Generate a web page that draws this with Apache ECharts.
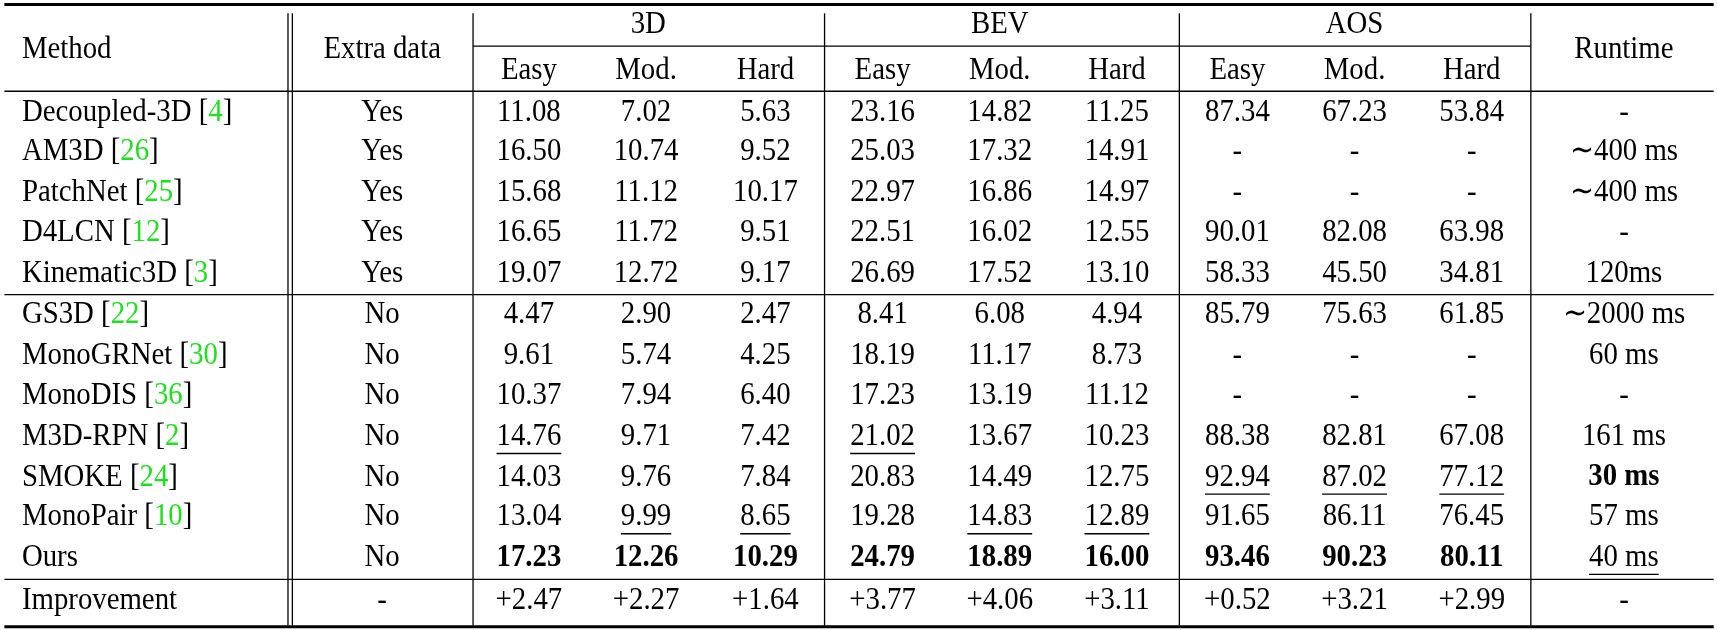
<!DOCTYPE html>
<html>
<head>
<meta charset="utf-8">
<script src="https://cdn.jsdelivr.net/npm/echarts@6/dist/echarts.min.js"></script>
<style>html,body{margin:0;padding:0;background:#fff}#main{width:1717px;height:630px}</style>
</head>
<body>
<div id="main"></div>
<script>
// table data
var methods = ['Decoupled-3D', 'AM3D', 'PatchNet', 'D4LCN', 'Kinematic3D', 'GS3D', 'MonoGRNet', 'MonoDIS', 'M3D-RPN', 'SMOKE', 'MonoPair', 'Ours', 'Improvement'];
var refs = ['4', '26', '25', '12', '3', '22', '30', '36', '2', '24', '10', '', ''];
var extraData = ['Yes', 'Yes', 'Yes', 'Yes', 'Yes', 'No', 'No', 'No', 'No', 'No', 'No', 'No', '-'];
var groups = ['3D', 'BEV', 'AOS'];
var subHeads = ['Easy', 'Mod.', 'Hard'];
var values = [
	['11.08', '7.02', '5.63', '23.16', '14.82', '11.25', '87.34', '67.23', '53.84'],
	['16.50', '10.74', '9.52', '25.03', '17.32', '14.91', '-', '-', '-'],
	['15.68', '11.12', '10.17', '22.97', '16.86', '14.97', '-', '-', '-'],
	['16.65', '11.72', '9.51', '22.51', '16.02', '12.55', '90.01', '82.08', '63.98'],
	['19.07', '12.72', '9.17', '26.69', '17.52', '13.10', '58.33', '45.50', '34.81'],
	['4.47', '2.90', '2.47', '8.41', '6.08', '4.94', '85.79', '75.63', '61.85'],
	['9.61', '5.74', '4.25', '18.19', '11.17', '8.73', '-', '-', '-'],
	['10.37', '7.94', '6.40', '17.23', '13.19', '11.12', '-', '-', '-'],
	['14.76', '9.71', '7.42', '21.02', '13.67', '10.23', '88.38', '82.81', '67.08'],
	['14.03', '9.76', '7.84', '20.83', '14.49', '12.75', '92.94', '87.02', '77.12'],
	['13.04', '9.99', '8.65', '19.28', '14.83', '12.89', '91.65', '86.11', '76.45'],
	['17.23', '12.26', '10.29', '24.79', '18.89', '16.00', '93.46', '90.23', '80.11'],
	['+2.47', '+2.27', '+1.64', '+3.77', '+4.06', '+3.11', '+0.52', '+3.21', '+2.99']
];
var runtimes = ['-', '\u223c400 ms', '\u223c400 ms', '-', '120ms', '\u223c2000 ms', '60 ms', '-', '161 ms', '30 ms', '57 ms', '40 ms', '-'];
// second best marks [row, col] (col 0..8 values, 9 runtime)
var underlined = [[8, 0], [8, 3], [9, 6], [9, 7], [9, 8], [10, 1], [10, 2], [10, 4], [10, 5], [11, 9]];
var boldCells = [[11, 0], [11, 1], [11, 2], [11, 3], [11, 4], [11, 5], [11, 6], [11, 7], [11, 8], [9, 9]];

// layout (in a 1568 x 573 frame)
var valueX = [483, 590, 699, 806, 913, 1020, 1130, 1237, 1344];
var runtimeX = 1483, extraX = 349, methodX = 20;
var groupX = [592, 913, 1237];
var rowY = [102, 138, 175, 212, 249, 286, 323, 360, 397, 434, 470, 507, 546];
var FONT = 'Liberation Serif, Times New Roman, serif';
var FS = 32, SX = 0.9;

function has(list, r, c) {
	return list.some(function (p) { return p[0] === r && p[1] === c; });
}

var cells = [];
cells.push({value: [methodX, 45], text: 'Method', align: 'left'});
cells.push({value: [extraX, 45], text: 'Extra data'});
cells.push({value: [runtimeX, 45], text: 'Runtime'});
groups.forEach(function (g, i) {
	cells.push({value: [groupX[i], 22], text: g});
	subHeads.forEach(function (s, j) {
		cells.push({value: [valueX[i * 3 + j], 64], text: s});
	});
});
methods.forEach(function (m, r) {
	cells.push({value: [methodX, rowY[r]], text: m, ref: refs[r], align: 'left'});
	cells.push({value: [extraX, rowY[r]], text: extraData[r]});
	values[r].forEach(function (v, c) {
		cells.push({value: [valueX[c], rowY[r]], text: v, bold: has(boldCells, r, c), under: has(underlined, r, c)});
	});
	cells.push({value: [runtimeX, rowY[r]], text: runtimes[r], bold: has(boldCells, r, 9), under: has(underlined, r, 9)});
});

// rules: x1, y1, x2, y2, width
var rules = [
	[4, 4, 1565, 4, 3], [4, 570, 1565, 570, 3],
	[4, 83, 1565, 83, 1.3], [4, 268, 1565, 268, 1.3], [4, 527, 1565, 527, 1.3],
	[432, 42, 1398, 42, 1.3],
	[263, 12, 263, 569, 1.3], [267, 12, 267, 569, 1.3], [432, 12, 432, 569, 1.3],
	[753, 12, 753, 569, 1.3], [1077, 12, 1077, 569, 1.3], [1398, 12, 1398, 569, 1.3]
];

var measureCtx = document.createElement('canvas').getContext('2d');

var chart = echarts.init(document.getElementById('main'));
chart.setOption({
	animation: false,
	grid: {left: 0, right: 0, top: 0, bottom: 0},
	xAxis: {type: 'value', min: 0, max: 1568, show: false},
	yAxis: {type: 'value', min: 0, max: 573, inverse: true, show: false},
	series: [
		{
			type: 'custom',
			data: rules,
			renderItem: function (params, api) {
				var a = api.coord([api.value(0), api.value(1)]);
				var b = api.coord([api.value(2), api.value(3)]);
				return {type: 'line', shape: {x1: a[0], y1: a[1], x2: b[0], y2: b[1]},
					style: {stroke: '#000', lineWidth: api.value(4)}};
			}
		},
		{
			type: 'custom',
			data: cells,
			renderItem: function (params, api) {
				var cell = cells[params.dataIndex];
				var p = api.coord([api.value(0), api.value(1)]);
				var weight = cell.bold ? 'bold' : 'normal';
				var txt = cell.ref ? cell.text + ' [{g|' + cell.ref + '}]' : cell.text;
				var children = [{
					type: 'text', x: p[0], y: p[1], scaleX: SX,
					style: {text: txt, font: weight + ' ' + FS + 'px ' + FONT, fill: '#000',
						align: cell.align || 'center', verticalAlign: 'middle',
						rich: {g: {fill: '#1ee01e', fontSize: FS, fontFamily: FONT}}}
				}];
				if (cell.under) {
					measureCtx.font = weight + ' ' + FS + 'px ' + FONT;
					var w = measureCtx.measureText(cell.text).width * SX;
					children.push({type: 'line',
						shape: {x1: p[0] - w / 2, y1: p[1] + 17, x2: p[0] + w / 2, y2: p[1] + 17},
						style: {stroke: '#000', lineWidth: 1.3}});
				}
				return {type: 'group', children: children};
			}
		}
	]
});
</script>
</body>
</html>
